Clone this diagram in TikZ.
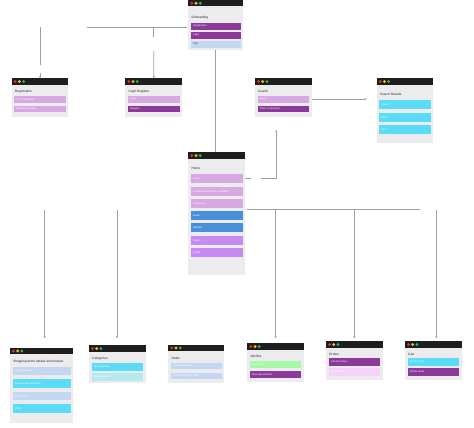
\documentclass[tikz,border=0pt]{standalone}
\usepackage{fontspec}
\setmainfont{Liberation Sans}
\usetikzlibrary{arrows.meta}
\definecolor{bodygray}{HTML}{ECECEE}
\definecolor{bargray}{HTML}{1E1E1E}
\definecolor{dred}{HTML}{E0312B}
\definecolor{dyellow}{HTML}{F5C518}
\definecolor{dgreen}{HTML}{2DBE4E}
\definecolor{cpurple}{HTML}{8B3A9A}
\definecolor{corchid}{HTML}{D8A8E2}
\definecolor{clav}{HTML}{C68BF2}
\definecolor{cblue}{HTML}{4A90D9}
\definecolor{clblue}{HTML}{C3D6F2}
\definecolor{ccyan}{HTML}{5ADCF8}
\definecolor{cturq}{HTML}{B5E9EE}
\definecolor{cgreen}{HTML}{A6F9A5}
\definecolor{cpink}{HTML}{F5D2FA}
\definecolor{linegray}{HTML}{A0A0A0}
\tikzset{
  winbody/.style={rectangle, fill=bodygray, draw=none, inner sep=0pt, outer sep=0pt},
  winbar/.style={rectangle, fill=bargray, draw=none, inner sep=0pt, outer sep=0pt},
  wdot/.style={circle, inner sep=0pt, minimum size=3.1pt},
  wtitle/.style={anchor=west, inner sep=0pt, font=\fontsize{3.2}{3.2}\selectfont, text=black!85},
  witem/.style={rectangle, anchor=north west, inner sep=0pt, outer sep=0pt, draw=none},
  itxt/.style={anchor=west, inner sep=0pt, font=\fontsize{2.5}{2.5}\selectfont},
  conn/.style={draw=linegray, line width=0.6pt},
  arr/.style={conn, -{Stealth[length=2.2pt,width=2pt]}}
}
% #1 name, #2 x, #3 y, #4 w, #5 h, #6 title y, #7 title
\newcommand\mywin[7]{%
  \node[winbody, anchor=north west, minimum width=#4pt, minimum height=#5pt] (#1) at (#2,#3) {};
  \node[winbar, anchor=north west, minimum width=#4pt, minimum height=6.5pt] (#1bar) at (#2,#3) {};
  \node[wdot, fill=dred] (#1dr) at (#2+3.5,#3+3.25) {};
  \node[wdot, fill=dyellow] (#1dy) at (#2+7.7,#3+3.25) {};
  \node[wdot, fill=dgreen] (#1dg) at (#2+11.9,#3+3.25) {};
  \node[wtitle] (#1title) at (#2+3,#6) {#7};
}
% #1 name, #2 x, #3 y, #4 w, #5 h, #6 fill, #7 text, #8 text colour
\newcommand\myitem[8]{%
  \node[witem, fill=#6, minimum width=#4pt, minimum height=#5pt] (#1) at (#2,#3) {};
  \node[itxt, text=#8] (#1txt) at (#2+2,#3+#5/2) {#7};
}
\begin{document}
\begin{tikzpicture}[x=1pt,y=-1pt]
\fill[white] (0,0) rectangle (474,428);
\useasboundingbox (0,0) rectangle (474,428);

% Onboarding
\mywin{ob}{188.3}{0}{54.7}{50}{17.7}{Onboarding}
\myitem{obReg}{191}{22.7}{49.7}{7.3}{cpurple}{Registration}{white}
\myitem{obLog}{191}{31.7}{49.7}{7.3}{cpurple}{Login}{white}
\myitem{obSkip}{191}{40.7}{49.7}{7.3}{clblue}{Skip}{black!70}

% Registration
\mywin{reg}{11.7}{78.3}{56.6}{38.4}{91.3}{Registration}
\myitem{regA}{14.3}{96}{51.7}{6.7}{corchid}{First \& lastname}{white}
\myitem{regB}{14.3}{105.7}{51.7}{6.7}{corchid}{Address \& Details}{white}

% Login Register
\mywin{lr}{125.3}{78.3}{57}{38.4}{91.3}{Login Register}
\myitem{lrA}{128}{96}{51.7}{6.7}{corchid}{Login}{white}
\myitem{lrB}{128}{105.7}{51.7}{6.7}{cpurple}{Register}{white}

% Search
\mywin{se}{255}{78.3}{56.7}{38.4}{91.3}{Search}
\myitem{seA}{257.7}{96}{51.7}{6.7}{corchid}{Input}{white}
\myitem{seB}{257.7}{105.7}{51.7}{6.7}{cpurple}{Filters \& Selection}{white}

% Search Results
\mywin{sr}{376.7}{78.3}{56.6}{64.4}{94.3}{Search Results}
\myitem{srA}{379.3}{100}{51.7}{9.3}{ccyan}{Result}{white}
\myitem{srB}{379.3}{112.7}{51.7}{9}{ccyan}{Filters}{white}
\myitem{srC}{379.3}{125}{51.7}{9}{ccyan}{Items}{white}

% Home
\mywin{ho}{188.3}{152.3}{56.7}{122.7}{168}{Home}
\myitem{hoA}{191}{173.7}{51.7}{9}{corchid}{Search}{white}
\myitem{hoB}{191}{186.7}{51.7}{9}{corchid}{E-wallet/Referral/Gift card/Offers}{white}
\myitem{hoC}{191}{199}{51.7}{9}{corchid}{Categories}{white}
\myitem{hoD}{191}{211.3}{51.7}{9}{cblue}{Deals}{white}
\myitem{hoE}{191}{223.3}{51.7}{9}{cblue}{Wishlist}{white}
\myitem{hoF}{191}{235.7}{51.7}{9}{clav}{Orders}{white}
\myitem{hoG}{191}{247.7}{51.7}{9}{clav}{Profile}{white}

% Shopping
\mywin{sh}{10}{347.7}{63.3}{75.6}{362}{Shopping items details and reviews}
\myitem{shA}{12.7}{366.7}{58.3}{8.3}{clblue}{Light on top ads}{white}
\myitem{shB}{12.7}{379.3}{58.3}{8.3}{ccyan}{Discover Best Products}{white}
\myitem{shC}{12.7}{392}{58.3}{8.3}{clblue}{All Products}{white}
\myitem{shD}{12.7}{404.3}{58.3}{8.3}{ccyan}{Order}{white}

% Categories
\mywin{ca}{89}{345.3}{56.7}{38}{359}{Categories}
\myitem{caA}{91.7}{363.3}{51.6}{7.3}{ccyan}{All Categories}{white}
\myitem{caB}{91.7}{373.3}{51.6}{7.3}{cturq}{Subcategories}{white}

% Deals
\mywin{de}{168.3}{344.7}{56}{38.6}{358}{Deals}
\myitem{deA}{171}{362.7}{51}{6.7}{clblue}{Special products}{white}
\myitem{deB}{171}{372.7}{51}{6.7}{clblue}{Products with top rated}{white}

% Wishlist
\mywin{wi}{247.3}{343.3}{56.4}{38.4}{356.7}{Wishlist}
\myitem{wiA}{250}{360.7}{51.3}{7.3}{cgreen}{Liked items}{white}
\myitem{wiB}{250}{370.7}{51.3}{7.3}{cpurple}{Most Saved Items}{white}

% Orders
\mywin{or}{326}{341.3}{56.7}{38.7}{354.3}{Orders}
\myitem{orA}{328.7}{358.3}{51.7}{7.3}{cpurple}{Latest 5 orders}{white}
\myitem{orB}{328.7}{368.3}{51.7}{7.3}{cpink}{Past Orders}{white}

% Cart
\mywin{ct}{405}{341.3}{57}{38.7}{354.3}{Cart}
\myitem{ctA}{407.7}{358.3}{51.7}{7.3}{ccyan}{Items in Cart}{white}
\myitem{ctB}{407.7}{368.3}{51.7}{7.3}{cpurple}{Similar Items}{white}

% connector points
\coordinate (c1) at (87.3,27.3);
\coordinate (c0) at (186.7,27.3);
\coordinate (c2a) at (40,27.3);
\coordinate (c2b) at (40,65);
\coordinate (c2c) at (40,73);
\coordinate (c3a) at (153.7,27.3);
\coordinate (c3b) at (153.7,36.7);
\coordinate (c3c) at (153.7,51);
\coordinate (c4) at (366.7,99);
\coordinate (c5a) at (250.7,178.2);
\coordinate (c5b) at (260.7,178.2);
\coordinate (c5c) at (276.3,178.2);
\coordinate (c5d) at (276.3,130);
\coordinate (hbarL) at (246.7,209.7);
\coordinate (hbarR) at (420,209.7);
\coordinate (d1) at (275.7,209.7);
\coordinate (d2) at (354.3,209.7);
\coordinate (d3) at (436.3,209.7);
\coordinate (l1) at (44.7,209.7);
\coordinate (l2) at (117,209.7);

% connectors
\draw[conn] (c0) -- (c1);
\draw[conn] (c2a) -- (c2b);
\draw[arr] (c2c) -- (reg.north);
\draw[conn] (c3a) -- (c3b);
\draw[arr] (c3c) -- (lr.north);
\draw[conn] (ob.south) -- (ob.south |- ho.north);
\draw[arr] (se.east |- c4) -- (c4);
\draw[conn] (hoA.east -| ho.east) -- (c5a);
\draw[arr] (c5b) -- (c5c) -- (c5d);
\draw[conn] (hbarL) -- (hbarR);
\draw[arr] (d1) -- (d1 |- 0,338.3);
\draw[arr] (d2) -- (d2 |- 0,338.3);
\draw[arr] (d3) -- (d3 |- 0,338.3);
\draw[arr] (l1) -- (l1 |- 0,338.3);
\draw[arr] (l2) -- (l2 |- 0,338.3);
\end{tikzpicture}
\end{document}
